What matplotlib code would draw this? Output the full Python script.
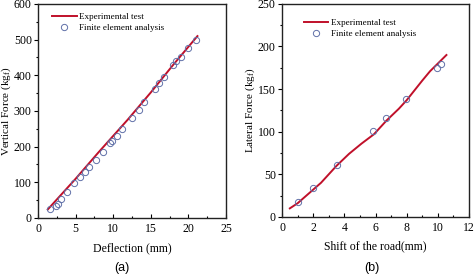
import numpy as np
import matplotlib
matplotlib.use('Agg')
import matplotlib.pyplot as plt
from matplotlib.ticker import MultipleLocator

plt.rcParams['font.family'] = 'Liberation Serif'
plt.rcParams['mathtext.fontset'] = 'custom'
plt.rcParams['mathtext.rm'] = 'Liberation Serif'

# (a) vertical force vs deflection
exp_a_x = [1.3, 5.0, 8.0, 11.9, 15.0, 18.0, 21.2]
exp_a_y = [24, 110, 183, 275, 352, 430, 510]
fea_a_x = [1.6, 2.4, 2.7, 3.1, 3.9, 4.85, 5.6, 6.2, 6.75, 7.7, 8.6, 9.6, 9.9, 10.45,
           11.15, 12.5, 13.4, 14.15, 15.5, 16.05, 16.8, 18.0, 18.4, 19.0, 19.9, 21.0]
fea_a_y = [24, 34, 39, 52, 74, 97, 116, 130, 144, 164, 186, 209, 217, 230,
           249, 280, 303, 326, 361, 378, 394, 429, 440, 452, 477, 500]

# (b) lateral force vs shift of the road
exp_b_x = [0.5, 1.0, 2.0, 2.5, 3.5, 4.3, 5.1, 5.9, 6.7, 7.5, 8.0, 9.0, 9.5, 10.0, 10.55]
exp_b_y = [10, 16, 32, 40, 60, 74, 86, 97, 113, 127, 137, 160, 171, 180, 190]
fea_b_x = [1.05, 2.0, 3.55, 5.86, 6.7, 7.98, 9.93, 10.2]
fea_b_y = [17, 34, 61, 101, 116, 138.5, 174.5, 179]

red = '#c0102a'
blue = '#6070a8'

fig = plt.figure(figsize=(4.74, 2.77), dpi=100)
ax1 = fig.add_axes([0.0802, 0.213, 0.3966, 0.7726])
ax2 = fig.add_axes([0.595, 0.217, 0.3945, 0.769])


def style(ax, xmax, xmaj, xmin, ymax, ymaj, ymin):
    ax.set_xlim(0, xmax)
    ax.set_ylim(0, ymax)
    ax.xaxis.set_major_locator(MultipleLocator(xmaj))
    ax.xaxis.set_minor_locator(MultipleLocator(xmin))
    ax.yaxis.set_major_locator(MultipleLocator(ymaj))
    ax.yaxis.set_minor_locator(MultipleLocator(ymin))
    ax.tick_params(axis='x', which='major', direction='in', length=3, width=0.8, labelsize=8.5, pad=3.5)
    ax.tick_params(axis='x', which='minor', direction='in', length=1.8, width=0.8)
    ax.tick_params(axis='y', which='major', direction='out', length=3, width=0.8, labelsize=8.5, pad=1.5)
    ax.tick_params(axis='y', which='minor', direction='out', length=1.8, width=0.8)
    for s in ax.spines.values():
        s.set_linewidth(1.0)
        s.set_color('#222222')


leg_kw = dict(loc='upper left', frameon=False, fontsize=6.6, handlelength=2.7,
              handletextpad=0.25, labelspacing=0.3, borderaxespad=0, borderpad=0)

ax1.plot(exp_a_x, exp_a_y, color=red, lw=1.4, label='Experimental test')
ax1.plot(fea_a_x, fea_a_y, 'o', mfc='none', mec=blue, ms=4.5, mew=0.7,
         label='Finite element analysis')
style(ax1, 25, 5, 2.5, 600, 100, 50)
ax1.set_xlabel('Deflection (mm)', fontsize=8.5, labelpad=5)
ax1.set_ylabel('Vertical Force (kg$_\\mathregular{f}$)', fontsize=8, labelpad=0.5)
ax1.legend(bbox_to_anchor=(0.074, 0.96), **leg_kw)

ax2.plot(exp_b_x, exp_b_y, color=red, lw=1.4, label='Experimental test')
ax2.plot(fea_b_x, fea_b_y, 'o', mfc='none', mec=blue, ms=4.5, mew=0.7,
         label='Finite element analysis')
style(ax2, 12, 2, 1, 250, 50, 25)
ax2.set_xlabel('Shift of the road(mm)', fontsize=8.5, labelpad=5)
ax2.set_ylabel('Lateral Force (kg$_\\mathregular{f}$)', fontsize=8, labelpad=1)
ax2.legend(bbox_to_anchor=(0.116, 0.93), **leg_kw)

fig.text(122 / 474, 1 - 268 / 277, '(a)', ha='center', va='center', fontsize=9,
         family='Liberation Sans')
fig.text(372 / 474, 1 - 268 / 277, '(b)', ha='center', va='center', fontsize=9,
         family='Liberation Sans')

fig.savefig('out.png', dpi=100)
